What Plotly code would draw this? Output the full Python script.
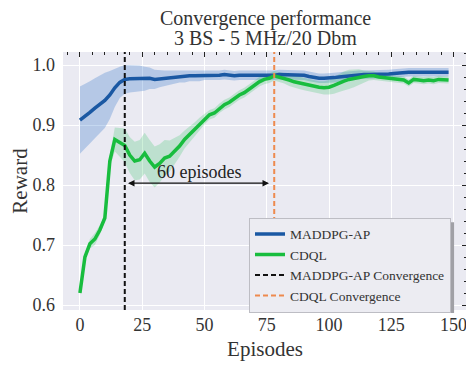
import plotly.graph_objects as go

episodes = list(range(0, 150, 2))

maddpg_mean = [0.908, 0.914, 0.921, 0.928, 0.935, 0.941, 0.950, 0.962, 0.971, 0.976,
               0.977, 0.977, 0.978, 0.977, 0.978, 0.976, 0.977, 0.978, 0.979, 0.980,
               0.981, 0.981, 0.982, 0.982, 0.982, 0.983, 0.983, 0.982, 0.983, 0.984,
               0.983, 0.982, 0.983, 0.983, 0.983, 0.982, 0.982, 0.982, 0.982, 0.983,
               0.984, 0.984, 0.984, 0.984, 0.984, 0.983, 0.981, 0.979, 0.978, 0.978,
               0.978, 0.979, 0.980, 0.981, 0.982, 0.983, 0.984, 0.984, 0.984, 0.984,
               0.985, 0.985, 0.985, 0.986, 0.987, 0.988, 0.988, 0.988, 0.988, 0.988,
               0.988, 0.988, 0.988, 0.988, 0.988]
maddpg_spread = [0.056, 0.054, 0.052, 0.050, 0.048, 0.046, 0.040, 0.032, 0.026, 0.024,
                 0.023, 0.022, 0.021, 0.020, 0.018, 0.016, 0.014, 0.013, 0.012, 0.011,
                 0.010, 0.010, 0.009, 0.009, 0.009, 0.008, 0.008, 0.008, 0.008, 0.008,
                 0.008, 0.008, 0.008, 0.008, 0.008, 0.008, 0.008, 0.008, 0.008, 0.008,
                 0.008, 0.008, 0.008, 0.008, 0.008, 0.008, 0.008, 0.008, 0.008, 0.008,
                 0.008, 0.008, 0.008, 0.008, 0.008, 0.007, 0.007, 0.007, 0.007, 0.007,
                 0.007, 0.007, 0.007, 0.007, 0.007, 0.007, 0.007, 0.007, 0.007, 0.007,
                 0.007, 0.007, 0.007, 0.007, 0.007]

cdql_mean = [0.620, 0.680, 0.702, 0.710, 0.725, 0.745, 0.840, 0.876, 0.871, 0.866,
             0.850, 0.840, 0.842, 0.853, 0.840, 0.830, 0.836, 0.845, 0.848, 0.856,
             0.865, 0.876, 0.884, 0.893, 0.902, 0.910, 0.917, 0.920, 0.928, 0.934,
             0.938, 0.944, 0.950, 0.954, 0.960, 0.966, 0.972, 0.976, 0.978, 0.982,
             0.980, 0.978, 0.975, 0.972, 0.970, 0.968, 0.966, 0.964, 0.963, 0.962,
             0.963, 0.966, 0.970, 0.973, 0.976, 0.978, 0.980, 0.981, 0.982, 0.982,
             0.980, 0.979, 0.978, 0.977, 0.976, 0.975, 0.970, 0.976, 0.975, 0.974,
             0.975, 0.974, 0.976, 0.975, 0.975]
cdql_spread = [0.004, 0.005, 0.008, 0.010, 0.008, 0.006, 0.010, 0.020, 0.024, 0.028,
               0.030, 0.032, 0.033, 0.034, 0.035, 0.034, 0.032, 0.030, 0.026, 0.022,
               0.018, 0.015, 0.013, 0.011, 0.010, 0.009, 0.008, 0.008, 0.008, 0.008,
               0.008, 0.008, 0.008, 0.008, 0.008, 0.008, 0.008, 0.008, 0.008, 0.008,
               0.008, 0.009, 0.010, 0.010, 0.010, 0.010, 0.010, 0.010, 0.010, 0.011,
               0.012, 0.014, 0.015, 0.016, 0.016, 0.015, 0.013, 0.010, 0.008, 0.007,
               0.006, 0.006, 0.006, 0.006, 0.006, 0.006, 0.006, 0.006, 0.006, 0.006,
               0.006, 0.006, 0.006, 0.006, 0.006]

maddpg_conv = 18
cdql_conv = 78
x_ticks = [0, 25, 50, 75, 100, 125, 150]
y_ticks = [0.6, 0.7, 0.8, 0.9, 1.0]
x_range = [-6.8, 155.4]
y_range = [0.5917, 1.0217]

FONT = "Liberation Serif"
TXT = "#333333"
BLUE = "#1a58a3"
GREEN = "#18bd3e"

fig = go.Figure()

def band(mean, spread, color):
    up = [m + s for m, s in zip(mean, spread)]
    lo = [m - s for m, s in zip(mean, spread)]
    fig.add_trace(go.Scatter(x=episodes, y=up, mode="lines", line=dict(width=0),
                             showlegend=False, hoverinfo="skip"))
    fig.add_trace(go.Scatter(x=episodes, y=lo, mode="lines", line=dict(width=0),
                             fill="tonexty", fillcolor=color, showlegend=False,
                             hoverinfo="skip"))

band(maddpg_mean, maddpg_spread, "rgba(40,110,200,0.27)")
band(cdql_mean, cdql_spread, "rgba(30,190,80,0.22)")

fig.add_trace(go.Scatter(x=episodes, y=maddpg_mean, mode="lines", name="MADDPG-AP",
                         line=dict(color=BLUE, width=3.5)))
fig.add_trace(go.Scatter(x=episodes, y=cdql_mean, mode="lines", name="CDQL",
                         line=dict(color=GREEN, width=3.5)))
fig.add_trace(go.Scatter(x=[maddpg_conv, maddpg_conv], y=y_range, mode="lines",
                         name="MADDPG-AP Convergence",
                         line=dict(color="#111111", width=2, dash="5px,3px")))
fig.add_trace(go.Scatter(x=[cdql_conv, cdql_conv], y=y_range, mode="lines",
                         name="CDQL Convergence",
                         line=dict(color="#ee8a4e", width=2, dash="5px,3px")))
# invisible trace that carries the top / right tick axes
fig.add_trace(go.Scatter(x=episodes, y=maddpg_mean, xaxis="x2", yaxis="y2",
                         mode="lines", line=dict(width=0), showlegend=False,
                         hoverinfo="skip"))

fig.add_annotation(x=maddpg_conv + 1.3, y=0.803, ax=cdql_conv - 1.5, ay=0.803,
                   xref="x", yref="y", axref="x", ayref="y", text="",
                   showarrow=True, arrowside="end+start", arrowhead=2,
                   startarrowhead=2, arrowsize=1, startarrowsize=1,
                   arrowwidth=1.3, arrowcolor="#111111", standoff=0, startstandoff=0)
fig.add_annotation(x=(maddpg_conv + cdql_conv) / 2, y=0.822, xref="x", yref="y",
                   text="60 episodes", showarrow=False,
                   font=dict(family=FONT, size=18, color="#222222"))

# title (two lines)
fig.add_annotation(x=0.5, y=1.128, xref="paper", yref="paper", yanchor="middle",
                   text="Convergence performance", showarrow=False,
                   font=dict(family=FONT, size=20, color=TXT))
fig.add_annotation(x=0.5, y=1.054, xref="paper", yref="paper", yanchor="middle",
                   text="3 BS - 5 MHz/20 Dbm", showarrow=False,
                   font=dict(family=FONT, size=20, color=TXT))

# legend shadow
fig.add_shape(type="rect", xref="paper", yref="paper", x0=0.472, x1=0.968,
              y0=-0.012, y1=0.340, fillcolor="#a0a0a6", line=dict(width=0),
              layer="above")

tickfont = dict(family=FONT, size=18, color=TXT)
# page body has an 8px margin: figure is 8px smaller so the plot lands where the reference's does
fig.update_layout(
    width=466, height=358,
    margin=dict(l=55, r=7, t=44, b=56, autoexpand=False),
    paper_bgcolor="white", plot_bgcolor="#eaeaf2",
    xaxis=dict(range=x_range, tickvals=x_ticks, automargin=False,
               showgrid=True, gridcolor="white", gridwidth=1.3, zeroline=False,
               showline=False, ticks="", tickfont=tickfont, ticklabelstandoff=2,
               title=dict(text="Episodes", font=dict(family=FONT, size=21, color=TXT),
                          standoff=7)),
    yaxis=dict(range=y_range, tickvals=y_ticks, tickformat=".1f", automargin=False,
               showgrid=True, gridcolor="white", gridwidth=1.3, zeroline=False,
               showline=False, ticks="", tickfont=tickfont, ticklabelstandoff=7,
               title=dict(text="Reward", font=dict(family=FONT, size=21, color=TXT),
                          standoff=8)),
    xaxis2=dict(range=x_range, overlaying="x", side="top", anchor="y2",
                showgrid=False, zeroline=False, showticklabels=False, automargin=False,
                ticks="inside", ticklen=5, tickcolor="#222222", tickwidth=1.2,
                tickvals=x_ticks,
                minor=dict(ticks="inside", ticklen=3, tickcolor="#222222",
                           tickmode="linear", tick0=0, dtick=5, showgrid=False)),
    yaxis2=dict(range=y_range, overlaying="y", side="right", anchor="x2",
                showgrid=False, zeroline=False, showticklabels=False, automargin=False,
                ticks="inside", ticklen=5, tickcolor="#222222", tickwidth=1.2,
                tickvals=y_ticks,
                minor=dict(ticks="inside", ticklen=3, tickcolor="#222222",
                           tickmode="linear", tick0=0.6, dtick=0.02, showgrid=False)),
    legend=dict(x=0.4604, y=0.358, xanchor="left", yanchor="top",
                bgcolor="#ececf2", bordercolor="#bdbdc4", borderwidth=1,
                font=dict(family=FONT, size=13.5, color=TXT),
                traceorder="normal", tracegroupgap=0, itemwidth=30),
    showlegend=True,
)

fig.write_html("out.html")
